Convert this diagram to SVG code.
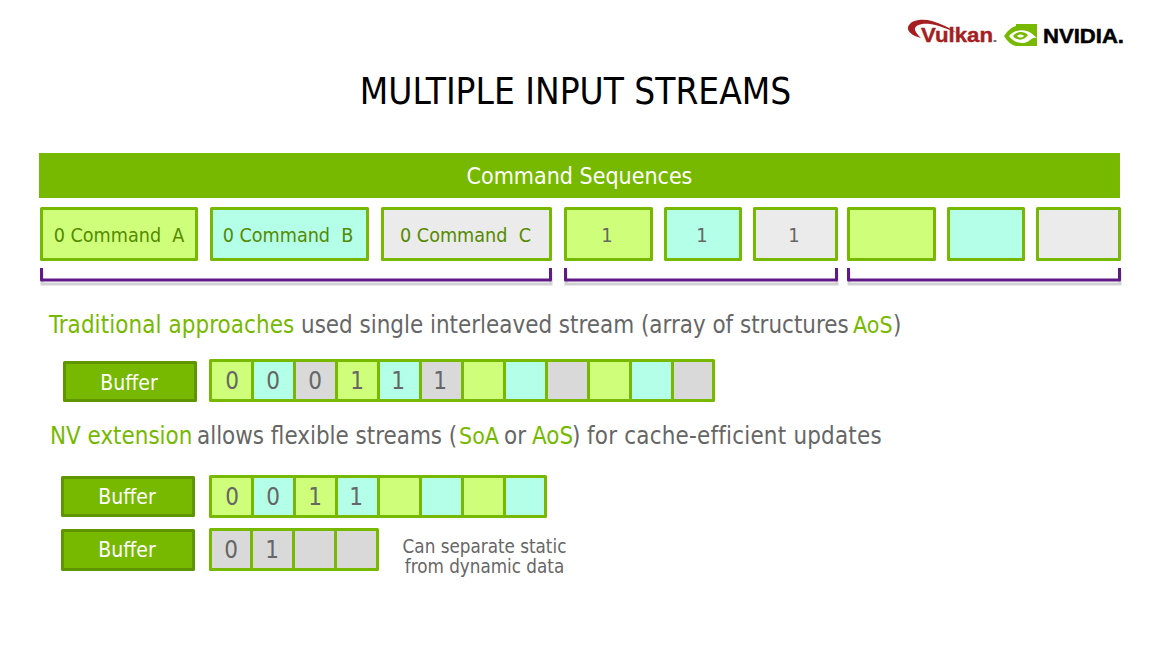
<svg xmlns="http://www.w3.org/2000/svg" width="1152" height="648" viewBox="0 0 1152 648">
<defs>
<style>
text{font-family:"DejaVu Sans Condensed","DejaVu Sans",sans-serif;font-stretch:condensed;}
.cell{stroke:#76b900;stroke-width:3;stroke-linejoin:round}
.lime{fill:#cfff7a}.aqua{fill:#b3ffe8}.pale{fill:#ebebeb}.grey{fill:#d9d9d9}
.cmd{font-size:19.600px;fill:#558a00;text-anchor:middle;white-space:pre}
.num{font-size:20px;fill:#666;text-anchor:middle}
.n{font-size:24px;fill:#666;text-anchor:middle}
.buf{fill:#76b900;stroke:#5f9600;stroke-width:3;stroke-linejoin:round}
.buft{font-size:21px;fill:#fff;text-anchor:middle}
.br{fill:none;stroke:#5f1a85;stroke-width:3;stroke-linejoin:round}
.sh{fill:none;stroke:#000;stroke-opacity:.18;stroke-width:3}
.line{font-size:23.900px;fill:#666}
.g{fill:#76b900}
.note{font-size:18.700px;fill:#666;text-anchor:middle}
.logo{font-family:"Liberation Sans",sans-serif;font-weight:bold;font-stretch:normal}
</style>
</defs>
<g id="logos">
<path d="M921 38C912 36 907 31 908 27C910 20 922 18 932 21C942 24 950 28 957 33C948 29 938 25 930 24C920 23 914 26 915 30C916 33 918 35 921 38Z" fill="#a41e22"/>
<text class="logo" x="921" y="42" font-size="21" fill="#a41e22" stroke="#a41e22" stroke-width=".4" textLength="72" lengthAdjust="spacingAndGlyphs">Vulkan</text>
<rect x="993.500" y="40" width="3" height="2" fill="#777"/>
<rect x="1016" y="24" width="21" height="22" fill="#76b900"/>
<path d="M1004 36C1008 30 1012 27 1016 26V46C1011 45 1007 41 1004 36Z" fill="#76b900"/>
<path d="M1009 36C1014 30 1024 28 1031 33L1037 38C1031 36 1030 43 1022 43C1016 43 1012 40 1009 36Z" fill="#fff"/>
<path d="M1013 36C1017 31 1024 31 1028 35C1024 41 1017 41 1013 36Z" fill="#76b900"/>
<path d="M1017 36C1019 34 1022 34 1024 36C1022 38 1019 38 1017 36Z" fill="#fff"/>
<text class="logo" x="1043" y="43" font-size="21" fill="#000" stroke="#000" stroke-width=".5" textLength="81" lengthAdjust="spacingAndGlyphs">NVIDIA.</text>
</g>
<text id="title" x="575.500" y="104" font-size="36.700" fill="#000" text-anchor="middle">MULTIPLE INPUT STREAMS</text>
<g id="header"><rect x="39" y="153" width="1081" height="45" fill="#76b900"/><text x="579.500" y="184" font-size="23" fill="#fff" text-anchor="middle">Command Sequences</text></g>
<g id="cmd-a"><rect class="cell lime" x="41.500" y="208.500" width="155" height="51"/><text class="cmd" x="119" y="242">0 Command  A</text></g>
<g id="cmd-b"><rect class="cell aqua" x="211.500" y="208.500" width="156" height="51"/><text class="cmd" x="288" y="242">0 Command  B</text></g>
<g id="cmd-c"><rect class="cell pale" x="382.500" y="208.500" width="168" height="51"/><text class="cmd" x="465.500" y="242">0 Command  C</text></g>
<g id="cmd-a1"><rect class="cell lime" x="565.500" y="208.500" width="86" height="51"/><text class="num" x="607" y="242">1</text></g>
<g id="cmd-b1"><rect class="cell aqua" x="665.500" y="208.500" width="75" height="51"/><text class="num" x="702" y="242">1</text></g>
<g id="cmd-c1"><rect class="cell pale" x="754.500" y="208.500" width="82" height="51"/><text class="num" x="794" y="242">1</text></g>
<g id="cmd-a2"><rect class="cell lime" x="848.500" y="208.500" width="86" height="51"/></g>
<g id="cmd-b2"><rect class="cell aqua" x="948.500" y="208.500" width="75" height="51"/></g>
<g id="cmd-c2"><rect class="cell pale" x="1037.500" y="208.500" width="82" height="51"/></g>
<g id="brackets">
<path class="sh" d="M42 270V282.500H551V270M566 270V282.500H837V270M849 270V282.500H1120V270" transform="translate(0 1.500)"/>
<path class="br" d="M41.500 268V280H550.500V268M565.500 268V280H836.500V268M848.500 268V280H1119.500V268"/>
</g>
<text id="line1" class="line" x="49" y="333"><tspan class="g" letter-spacing=".09">Traditional approaches</tspan> <tspan x="301">used single interleaved stream (array of structures</tspan> <tspan class="g" x="853" font-size="23">AoS</tspan><tspan x="893">)</tspan></text>
<g id="buffer1"><rect class="buf" x="64.500" y="362.500" width="131" height="38"/><text class="buft" x="129" y="390">Buffer</text></g>
<g id="strip1">
<rect class="cell lime" x="210.500" y="360.500" width="42" height="40"/><rect class="cell aqua" x="252.500" y="360.500" width="42" height="40"/><rect class="cell grey" x="294.500" y="360.500" width="42" height="40"/>
<rect class="cell lime" x="336.500" y="360.500" width="42" height="40"/><rect class="cell aqua" x="378.500" y="360.500" width="42" height="40"/><rect class="cell grey" x="420.500" y="360.500" width="42" height="40"/>
<rect class="cell lime" x="462.500" y="360.500" width="42" height="40"/><rect class="cell aqua" x="504.500" y="360.500" width="42" height="40"/><rect class="cell grey" x="546.500" y="360.500" width="42" height="40"/>
<rect class="cell lime" x="588.500" y="360.500" width="42" height="40"/><rect class="cell aqua" x="630.500" y="360.500" width="42" height="40"/><rect class="cell grey" x="672.500" y="360.500" width="41" height="40"/>
<text class="n" x="232" y="389">0</text><text class="n" x="273" y="389">0</text><text class="n" x="315" y="389">0</text><text class="n" x="357" y="389">1</text><text class="n" x="398" y="389">1</text><text class="n" x="440" y="389">1</text>
</g>
<text id="line2" class="line" x="50" y="444"><tspan class="g">NV extension</tspan> <tspan x="197">allows flexible streams (</tspan><tspan class="g" x="459" font-size="23">SoA</tspan> <tspan x="504">or</tspan> <tspan class="g" x="532">AoS</tspan><tspan x="572">)</tspan> <tspan x="587" letter-spacing=".22">for cache-efficient updates</tspan></text>
<g id="buffer2"><rect class="buf" x="62.500" y="477.500" width="131" height="38"/><text class="buft" x="127" y="504">Buffer</text></g>
<g id="strip2">
<rect class="cell lime" x="210.500" y="476.500" width="42" height="40"/><rect class="cell aqua" x="252.500" y="476.500" width="42" height="40"/><rect class="cell lime" x="294.500" y="476.500" width="42" height="40"/><rect class="cell aqua" x="336.500" y="476.500" width="42" height="40"/>
<rect class="cell lime" x="378.500" y="476.500" width="42" height="40"/><rect class="cell aqua" x="420.500" y="476.500" width="42" height="40"/><rect class="cell lime" x="462.500" y="476.500" width="42" height="40"/><rect class="cell aqua" x="504.500" y="476.500" width="41" height="40"/>
<text class="n" x="232" y="505">0</text><text class="n" x="273" y="505">0</text><text class="n" x="315" y="505">1</text><text class="n" x="356" y="505">1</text>
</g>
<g id="buffer3"><rect class="buf" x="62.500" y="530.500" width="131" height="39"/><text class="buft" x="127" y="557">Buffer</text></g>
<g id="strip3">
<rect class="cell grey" x="210.500" y="529.500" width="41" height="40"/><rect class="cell grey" x="251.500" y="529.500" width="42" height="40"/><rect class="cell grey" x="293.500" y="529.500" width="42" height="40"/><rect class="cell grey" x="335.500" y="529.500" width="42" height="40"/>
<text class="n" x="231" y="558">0</text><text class="n" x="272" y="558">1</text>
</g>
<g id="note"><text class="note" x="484.500" y="553">Can separate static</text><text class="note" x="484.500" y="573">from dynamic data</text></g>
</svg>
